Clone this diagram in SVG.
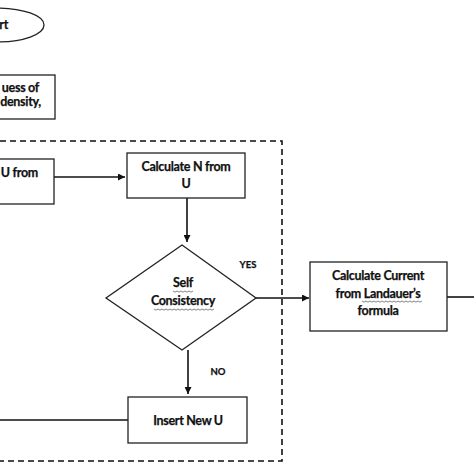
<svg xmlns="http://www.w3.org/2000/svg" width="474" height="474" viewBox="0 0 474 474">
<defs>
<style>
.box{fill:#fff;stroke:#222;stroke-width:1.3}
.t{font-family:Lato,"Liberation Sans",sans-serif;font-weight:bold;font-size:12.5px;letter-spacing:-0.3px;fill:#111;stroke:#111;stroke-width:0.25;text-anchor:middle}
.s{font-size:9.5px;letter-spacing:0}
.ln{fill:none;stroke:#111;stroke-width:1.6}
.dash{fill:none;stroke:#111;stroke-width:1.6;stroke-dasharray:6,4}
.wav{fill:none;stroke:#777;stroke-width:0.9}
</style>
<marker id="ah" viewBox="0 0 10 10" refX="10" refY="5" markerWidth="7" markerHeight="7" markerUnits="userSpaceOnUse" orient="auto"><path d="M0,0L10,5L0,10z" fill="#111"/></marker>
</defs>
<rect width="474" height="474" fill="#fff"/>
<g id="loop-boundary"><path class="dash" d="M0,141H282V461H0"/></g>
<g id="connectors">
<path class="ln" d="M54,177H125" marker-end="url(#ah)"/>
<path class="ln" d="M187,198V242" marker-end="url(#ah)"/>
<path class="ln" d="M256,298H309" marker-end="url(#ah)"/>
<path class="ln" d="M188,350V394" marker-end="url(#ah)"/>
<path class="ln" d="M128,420H0"/>
<path class="ln" d="M447,297H474"/>
</g>
<g id="start"><ellipse class="box" cx="-3" cy="25" rx="47" ry="17"/><text class="t" x="8" y="29" style="text-anchor:end">rt</text></g>
<g id="guess"><rect class="box" x="-2" y="75" width="57" height="44"/><text class="t" x="39" y="92" style="text-anchor:end">uess of</text><text class="t" x="41" y="106" style="text-anchor:end">density,</text></g>
<g id="calc-u"><rect class="box" x="-2" y="159" width="56" height="45"/><text class="t" x="38" y="177" style="text-anchor:end">U from</text></g>
<g id="calc-n"><rect class="box" x="127" y="153" width="118" height="45"/><text class="t" x="186" y="171">Calculate N from</text><text class="t" x="186" y="188">U</text></g>
<g id="self-consistency"><path class="box" d="M182,245L256,298L182,350L106,298Z"/><text class="t" x="183" y="287">Self</text><text class="t" x="183" y="305">Consistency</text>
<path class="wav" d="M173,291l2,1.2l2,-1.2l2,1.2l2,-1.2l2,1.2l2,-1.2l2,1.2l2,-1.2l2,1.2l2,-1.2"/>
<path class="wav" d="M154,309l2,1.2l2,-1.2l2,1.2l2,-1.2l2,1.2l2,-1.2l2,1.2l2,-1.2l2,1.2l2,-1.2l2,1.2l2,-1.2l2,1.2l2,-1.2l2,1.2l2,-1.2l2,1.2l2,-1.2l2,1.2l2,-1.2l2,1.2l2,-1.2l2,1.2l2,-1.2l2,1.2l2,-1.2l2,1.2l2,-1.2l2,1.2l2,-1.2"/>
<text class="t s" x="248" y="268">YES</text><text class="t s" x="218" y="375">NO</text></g>
<g id="current"><rect class="box" x="310" y="262" width="137" height="69"/><text class="t" x="378" y="280">Calculate Current</text><text class="t" x="378" y="298">from Landauer’s</text><text class="t" x="378" y="315">formula</text>
<path class="wav" d="M362,301l2,1.2l2,-1.2l2,1.2l2,-1.2l2,1.2l2,-1.2l2,1.2l2,-1.2l2,1.2l2,-1.2l2,1.2l2,-1.2l2,1.2l2,-1.2l2,1.2l2,-1.2l2,1.2l2,-1.2l2,1.2l2,-1.2l2,1.2l2,-1.2l2,1.2l2,-1.2l2,1.2l2,-1.2l2,1.2l2,-1.2l2,1.2l2,-1.2"/></g>
<g id="insert-u"><rect class="box" x="128" y="397" width="119" height="46"/><text class="t" x="188" y="425">Insert New U</text></g>
</svg>
